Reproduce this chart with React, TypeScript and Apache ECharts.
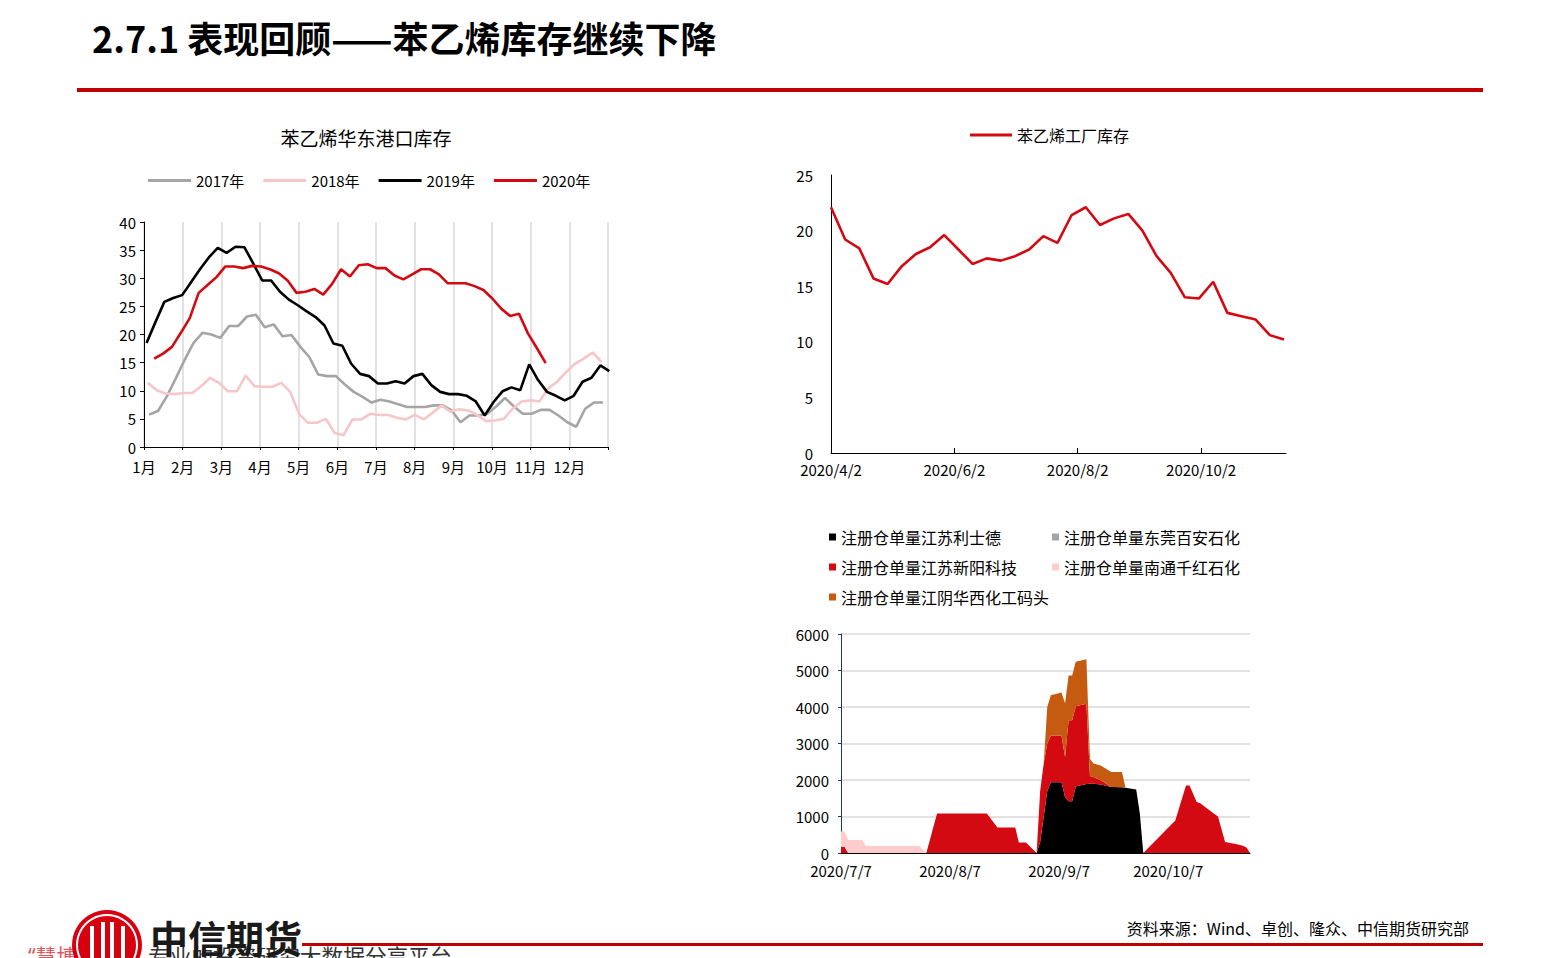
import React, { useEffect, useRef } from 'react';
import * as echarts from 'echarts';

const FONT = '"Noto Sans CJK SC", "Noto Sans", sans-serif';

// ---------- Page texts ----------
const pageTitle = '2.7.1 表现回顾——苯乙烯库存继续下降';
const sourceNote = '资料来源：Wind、卓创、隆众、中信期货研究部';
const brandName = '中信期货';
const watermarkBrand = '“慧博资讯”';
const watermarkSlogan = '专业的投资研究大数据分享平台';

// ---------- Chart 1: 苯乙烯华东港口库存 (weekly, 万吨) ----------
const portTitle = '苯乙烯华东港口库存';
const portMonths = ['1月', '2月', '3月', '4月', '5月', '6月', '7月', '8月', '9月', '10月', '11月', '12月'];
const portYears = ['2017年', '2018年', '2019年', '2020年'];
const portFirstDates = ['2017-01-05', '2018-01-04', '2019-01-03', '2020-01-09'];
const port2017 = [5.75, 6.4, 9.0, 12.2, 15.5, 18.5, 20.3, 20.0, 19.4, 21.5, 21.5, 23.2, 23.5, 21.3, 21.8, 19.7, 19.9, 17.8, 16.0, 12.9, 12.6, 12.6, 11.1, 9.8, 8.9, 7.9, 8.4, 8.1, 7.6, 7.1, 7.1, 7.1, 7.4, 7.4, 6.5, 4.4, 5.6, 5.6, 5.9, 7.2, 8.7, 7.2, 5.9, 5.9, 6.6, 6.6, 5.6, 4.4, 3.6, 6.8, 7.9, 7.9];
const port2018 = [11.4, 10.1, 9.5, 9.4, 9.6, 9.6, 10.8, 12.3, 11.4, 9.9, 9.9, 12.7, 10.8, 10.7, 10.7, 11.4, 9.8, 5.9, 4.3, 4.3, 5.0, 2.5, 2.1, 4.9, 4.9, 5.9, 5.7, 5.7, 5.2, 4.9, 5.7, 4.9, 6.1, 7.4, 6.3, 6.7, 6.5, 5.7, 4.6, 4.7, 5.0, 6.8, 8.1, 8.3, 8.1, 10.4, 11.6, 13.3, 14.8, 15.7, 16.8, 15.1];
const port2019 = [18.5, 22.2, 25.8, 26.5, 27.0, 29.3, 31.6, 33.7, 35.4, 34.5, 35.6, 35.5, 32.6, 29.6, 29.6, 27.6, 26.2, 25.2, 24.1, 23.1, 21.6, 18.4, 18.0, 14.8, 13.0, 12.6, 11.3, 11.3, 11.7, 11.3, 12.6, 13.0, 11.0, 9.8, 9.4, 9.4, 9.1, 8.1, 5.6, 8.0, 9.9, 10.6, 10.1, 14.7, 11.9, 9.8, 9.1, 8.3, 9.1, 11.6, 12.3, 14.5, 13.5];
const port2020 = [15.7, 16.6, 17.8, 20.3, 22.9, 27.4, 28.8, 30.2, 32.1, 32.1, 31.8, 32.2, 32.1, 31.6, 30.9, 29.6, 27.4, 27.6, 28.1, 27.1, 29.0, 31.6, 30.3, 32.3, 32.5, 31.8, 31.8, 30.5, 29.8, 30.7, 31.6, 31.6, 30.7, 29.1, 29.1, 29.1, 28.6, 27.9, 26.4, 24.6, 23.3, 23.7, 20.2, 17.6, 14.9];
const portColors = ['#a5a5a5', '#f7c6c8', '#000000', '#d40a12'];

// ---------- Chart 2: 苯乙烯工厂库存 (weekly) ----------
const factoryName = '苯乙烯工厂库存';
const factoryFirstDate = '2020-04-02';
const factoryEndDate = '2020-11-13';
const factoryValues = [22.1, 19.2, 18.4, 15.7, 15.2, 16.8, 17.9, 18.5, 19.6, 18.3, 17.0, 17.5, 17.3, 17.7, 18.3, 19.5, 18.9, 21.4, 22.1, 20.5, 21.1, 21.5, 20.0, 17.7, 16.2, 14.0, 13.9, 15.4, 12.6, 12.3, 12.0, 10.6, 10.2];
const factoryTickDates = ['2020-04-02', '2020-06-02', '2020-08-02', '2020-10-02'];

// ---------- Chart 3: 注册仓单 (stacked area) ----------
const warrantNames = ['注册仓单量江苏利士德', '注册仓单量东莞百安石化', '注册仓单量江苏新阳科技', '注册仓单量南通千红石化', '注册仓单量江阴华西化工码头'];
const warrantColors = ['#000000', '#a5a5a5', '#d40a12', '#ffcccc', '#c55a11'];
const warrantDates = ['2020-07-07', '2020-07-08', '2020-07-09', '2020-07-13', '2020-07-14', '2020-07-29', '2020-07-31', '2020-08-03', '2020-08-17', '2020-08-20', '2020-08-25', '2020-08-26', '2020-08-28', '2020-08-31', '2020-09-01', '2020-09-02', '2020-09-03', '2020-09-04', '2020-09-07', '2020-09-08', '2020-09-09', '2020-09-10', '2020-09-11', '2020-09-14', '2020-09-15', '2020-09-16', '2020-09-18', '2020-09-21', '2020-09-24', '2020-09-25', '2020-09-28', '2020-09-29', '2020-09-30', '2020-10-09', '2020-10-12', '2020-10-13', '2020-10-15', '2020-10-16', '2020-10-20', '2020-10-21', '2020-10-23', '2020-10-26', '2020-10-28', '2020-10-29', '2020-10-30'];
const wLishide = [0, 0, 0, 0, 0, 0, 0, 0, 0, 0, 0, 0, 0, 0, 300, 1000, 1700, 1940, 1940, 1530, 1420, 1420, 1820, 1890, 1900, 1900, 1880, 1810, 1800, 1790, 1740, 1100, 0, 0, 0, 0, 0, 0, 0, 0, 0, 0, 0, 0, 0];
const wBaian = [0, 0, 0, 0, 0, 0, 0, 0, 0, 0, 0, 0, 0, 0, 0, 0, 0, 0, 0, 0, 0, 0, 0, 0, 0, 0, 0, 0, 0, 0, 0, 0, 0, 0, 0, 0, 0, 0, 0, 0, 0, 0, 0, 0, 0];
const wXinyang = [170, 170, 0, 0, 0, 0, 0, 1080, 1080, 700, 700, 290, 290, 0, 1400, 1450, 1300, 1280, 1280, 1100, 2220, 2220, 2200, 2200, 210, 180, 110, 0, 0, 0, 0, 0, 0, 890, 1850, 1850, 1400, 1360, 1070, 1000, 300, 250, 200, 150, 0];
const wQianhong = [420, 420, 355, 355, 190, 190, 0, 0, 0, 0, 0, 0, 0, 0, 0, 0, 0, 0, 0, 0, 0, 0, 0, 0, 0, 0, 0, 0, 0, 0, 0, 0, 0, 0, 0, 0, 0, 0, 0, 0, 0, 0, 0, 0, 0];
const wHuaxi = [0, 0, 0, 0, 0, 0, 0, 0, 0, 0, 0, 0, 0, 0, 0, 0, 1000, 1100, 1180, 1470, 1220, 1220, 1220, 1220, 470, 370, 410, 410, 420, 0, 0, 0, 0, 0, 0, 0, 0, 0, 0, 0, 0, 0, 0, 0, 0];
const warrantEndDate = '2020-10-30';
const warrantTickDates = ['2020-07-07', '2020-08-07', '2020-09-07', '2020-10-07'];

// ---------- helpers ----------
const DAY = 86400000;
const ts = (s: string) => {
  const [y, m, d] = s.split('-').map(Number);
  return Date.UTC(y, m - 1, d);
};
const fmtDate = (s: string) => {
  const [y, m, d] = s.split('-').map(Number);
  return `${y}/${m}/${d}`;
};
const dayOffset = (from: string, to: string) => Math.round((ts(to) - ts(from)) / DAY);
// position of a weekly observation on the 12-month axis (relative to Jan 1 of the series' year)
const monthPos = (first: string, i: number) => {
  const y = Number(first.slice(0, 4));
  const t = ts(first) + i * 7 * DAY;
  const doy = (t - Date.UTC(y, 0, 1)) / DAY;
  return doy / (365 / 12);
};

const App: React.FC = () => {
  const ref = useRef<HTMLDivElement>(null);

  useEffect(() => {
    if (!ref.current) return;
    const chart = echarts.init(ref.current, undefined, { renderer: 'svg' });

    const portSeries = [port2017, port2018, port2019, port2020].map((vals, k) => ({
      name: portYears[k],
      type: 'line',
      xAxisIndex: 0,
      yAxisIndex: 0,
      symbol: 'none',
      color: portColors[k],
      lineStyle: { width: 2.6, color: portColors[k] },
      data: vals.map((v, i) => [monthPos(portFirstDates[k], i), v]),
    }));

    // chart 2: value axis in days since first date, ticks every 61 days (4/2, 6/2, 8/2, 10/2)
    const factoryStep = dayOffset(factoryTickDates[0], factoryTickDates[1]);
    const factorySeries = {
      name: factoryName,
      type: 'line',
      xAxisIndex: 1,
      yAxisIndex: 1,
      symbol: 'none',
      color: '#d40a12',
      lineStyle: { width: 2.6, color: '#d40a12' },
      data: factoryValues.map((v, i) => [i * 7, v]),
    };

    const warrantSeries = [wLishide, wBaian, wXinyang, wQianhong, wHuaxi].map((vals, k) => ({
      name: warrantNames[k],
      type: 'line',
      xAxisIndex: 2,
      yAxisIndex: 2,
      stack: 'warrant',
      symbol: 'none',
      color: warrantColors[k],
      itemStyle: { color: warrantColors[k] },
      lineStyle: { width: 0, color: warrantColors[k] },
      areaStyle: { color: warrantColors[k], opacity: 1 },
      data: vals.map((v, i) => [ts(warrantDates[i]), v]),
    }));

    const warrantSpan = dayOffset(warrantDates[0], warrantEndDate);
    const warrantStep = dayOffset(warrantTickDates[0], warrantTickDates[3]) / 3;

    const axisBlack = { show: true, lineStyle: { color: '#000', width: 1 } };
    const lblStyle = { color: '#000', fontSize: 15, fontFamily: FONT };
    const plain = (v: number) => String(v);

    const option: any = {
      animation: false,
      backgroundColor: '#fff',
      textStyle: { fontFamily: FONT, color: '#000' },
      grid: [
        { left: 144, top: 222, width: 464, height: 225 },
        { left: 831, top: 175, width: 455, height: 278 },
        { left: 841, top: 634, width: 409, height: 219 },
      ],
      legend: [
        {
          data: portYears,
          left: 148,
          top: 173,
          padding: 0,
          icon: 'rect',
          itemWidth: 43,
          itemHeight: 3,
          itemGap: 19,
          selectedMode: false,
          textStyle: { fontSize: 15, color: '#000', fontFamily: FONT },
        },
        {
          data: [factoryName],
          left: 970,
          top: 127,
          padding: 0,
          icon: 'rect',
          itemWidth: 42,
          itemHeight: 3,
          selectedMode: false,
          textStyle: { fontSize: 16, color: '#000', fontFamily: FONT },
        },
        {
          data: [warrantNames[0], warrantNames[2], warrantNames[4]],
          orient: 'vertical',
          left: 829,
          top: 529,
          padding: 0,
          icon: 'rect',
          itemWidth: 7,
          itemHeight: 7,
          itemGap: 14,
          selectedMode: false,
          textStyle: { fontSize: 16, lineHeight: 16, color: '#000', fontFamily: FONT },
        },
        {
          data: [warrantNames[1], warrantNames[3]],
          orient: 'vertical',
          left: 1052,
          top: 529,
          padding: 0,
          icon: 'rect',
          itemWidth: 7,
          itemHeight: 7,
          itemGap: 14,
          selectedMode: false,
          textStyle: { fontSize: 16, lineHeight: 16, color: '#000', fontFamily: FONT },
        },
      ],
      xAxis: [
        {
          type: 'value',
          gridIndex: 0,
          min: 0,
          max: 12,
          interval: 1,
          axisLine: axisBlack,
          axisTick: { show: true, inside: false, length: 3, lineStyle: { color: '#000' } },
          axisLabel: {
            ...lblStyle,
            margin: 12,
            formatter: (v: number) => (Number.isInteger(v) && v < 12 ? portMonths[v] : ''),
          },
          splitLine: { show: true, lineStyle: { color: '#d9d9d9', width: 1.5 } },
        },
        {
          type: 'value',
          gridIndex: 1,
          min: 0,
          max: dayOffset(factoryFirstDate, factoryEndDate),
          interval: factoryStep,
          axisLine: axisBlack,
          axisTick: { show: true, inside: true, length: 5, lineStyle: { color: '#000' } },
          axisLabel: {
            ...lblStyle,
            margin: 9,
            showMaxLabel: false,
            formatter: (v: number) => {
              const k = Math.round(v / factoryStep);
              return Math.abs(v - k * factoryStep) < 0.01 && k < factoryTickDates.length ? fmtDate(factoryTickDates[k]) : '';
            },
          },
          splitLine: { show: false },
        },
        {
          type: 'time',
          gridIndex: 2,
          min: ts(warrantDates[0]),
          max: ts(warrantEndDate),
          axisLine: axisBlack,
          axisTick: { show: false },
          axisLabel: { show: false },
          splitLine: { show: false },
        },
        {
          type: 'value',
          gridIndex: 2,
          position: 'bottom',
          min: 0,
          max: warrantSpan,
          interval: warrantStep,
          axisLine: { show: false },
          axisTick: { show: true, inside: true, length: 4, lineStyle: { color: '#000' } },
          axisLabel: {
            ...lblStyle,
            margin: 10,
            showMaxLabel: false,
            formatter: (v: number) => {
              const k = Math.round(v / warrantStep);
              return Math.abs(v - k * warrantStep) < 0.01 && k < warrantTickDates.length ? fmtDate(warrantTickDates[k]) : '';
            },
          },
          splitLine: { show: false },
        },
      ],
      yAxis: [
        {
          type: 'value',
          gridIndex: 0,
          min: 0,
          max: 40,
          interval: 5,
          axisLine: axisBlack,
          axisTick: { show: true, inside: false, length: 4, lineStyle: { color: '#000' } },
          axisLabel: { ...lblStyle, margin: 8, formatter: plain },
          splitLine: { show: false },
        },
        {
          type: 'value',
          gridIndex: 1,
          min: 0,
          max: 25,
          interval: 5,
          axisLine: axisBlack,
          axisTick: { show: false },
          axisLabel: { ...lblStyle, margin: 18, formatter: plain },
          splitLine: { show: false },
        },
        {
          type: 'value',
          gridIndex: 2,
          min: 0,
          max: 6000,
          interval: 1000,
          axisLine: { show: true, lineStyle: { color: '#1f3864', width: 1 } },
          axisTick: { show: true, inside: false, length: 3, lineStyle: { color: '#1f3864' } },
          axisLabel: { ...lblStyle, margin: 12, formatter: plain },
          splitLine: { show: true, lineStyle: { color: '#d9d9d9', width: 1.5 } },
        },
      ],
      series: [...portSeries, factorySeries, ...warrantSeries],
      graphic: [
        {
          type: 'text',
          x: 92,
          y: 37,
          style: { text: pageTitle, fontSize: 36, fontWeight: 'bold', fontFamily: FONT, fill: '#000', verticalAlign: 'middle', textVerticalAlign: 'middle' },
        },
        { type: 'rect', shape: { x: 77, y: 88, width: 1406, height: 4 }, style: { fill: '#c00000' } },
        {
          type: 'text',
          x: 366,
          y: 137,
          style: { text: portTitle, fontSize: 19, fontFamily: FONT, fill: '#000', align: 'center', verticalAlign: 'middle', textAlign: 'center', textVerticalAlign: 'middle' },
        },
        {
          type: 'text',
          x: 1469,
          y: 928,
          style: { text: sourceNote, fontSize: 16, fontFamily: FONT, fill: '#000', align: 'right', verticalAlign: 'middle', textAlign: 'right', textVerticalAlign: 'middle' },
        },
        { type: 'rect', shape: { x: 302, y: 943, width: 1181, height: 3 }, style: { fill: '#c00000' } },
        {
          type: 'text',
          x: 28,
          y: 945,
          style: { text: watermarkBrand, fontSize: 21, fontFamily: '"Noto Sans", "Noto Sans CJK SC", sans-serif', fill: '#e3585d', verticalAlign: 'top', textVerticalAlign: 'top' },
        },
        {
          type: 'text',
          x: 148,
          y: 945,
          style: { text: watermarkSlogan, fontSize: 21.7, fontFamily: FONT, fill: '#333', verticalAlign: 'top', textVerticalAlign: 'top' },
        },
        { type: 'circle', shape: { cx: 107, cy: 945, r: 35 }, style: { fill: '#d7000f' } },
        { type: 'ring', shape: { cx: 107, cy: 945, r: 31, r0: 29 }, style: { fill: '#fff' } },
        { type: 'rect', shape: { x: 90, y: 926, width: 4, height: 40 }, style: { fill: '#fff' } },
        { type: 'rect', shape: { x: 101, y: 922, width: 4, height: 45 }, style: { fill: '#fff' } },
        { type: 'rect', shape: { x: 110, y: 922, width: 4, height: 45 }, style: { fill: '#fff' } },
        { type: 'rect', shape: { x: 121, y: 926, width: 4, height: 40 }, style: { fill: '#fff' } },
        {
          type: 'text',
          x: 150,
          y: 936,
          style: { text: brandName, fontSize: 38, fontWeight: 'bold', fontFamily: FONT, fill: '#1a1a1a', verticalAlign: 'middle', textVerticalAlign: 'middle' },
        },
      ],
    };

    chart.setOption(option);
    return () => chart.dispose();
  }, []);

  return (
    <div
      ref={ref}
      style={{ position: 'fixed', left: 0, top: 0, width: 1560, height: 958, background: '#fff' }}
    />
  );
};

export default App;
